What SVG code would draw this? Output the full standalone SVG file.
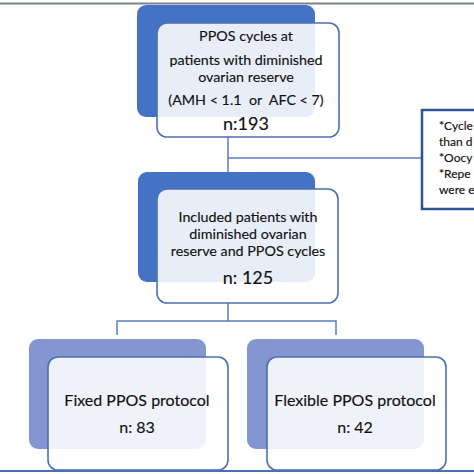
<svg xmlns="http://www.w3.org/2000/svg" width="474" height="474" viewBox="0 0 474 474">
<style>
.back{fill:#4472c4}
.back2{fill:#8396d2}
.front{fill:#ffffff;fill-opacity:0.88;stroke:#4d6fb4;stroke-width:1.6}
text{font-family:Lato,"Open Sans",sans-serif;fill:#111;stroke:#111;stroke-width:0.15}
.t{font-size:14.3px;text-anchor:middle}
.b{font-size:16px;text-anchor:middle}
.n{font-size:18px;text-anchor:middle}
.s{font-size:12px}
.c{fill:none;stroke:#5b7bbf;stroke-width:1.5}
</style>
<rect x="0" y="0" width="474" height="474" fill="#ffffff"/>
<line x1="0" y1="3.5" x2="474" y2="3.5" stroke="#7a8290" stroke-width="2"/>
<line x1="0" y1="471" x2="474" y2="471" stroke="#4a6fb5" stroke-width="2"/>
<g id="connectors">
<path class="c" d="M228 137 V172"/>
<path class="c" d="M228 158 H422"/>
<path class="c" d="M228 303 V321 M117 335 V321 H336 V335"/>
</g>
<g id="top">
<rect class="back" x="137" y="5" width="178" height="112" rx="9"/>
<rect class="front" x="157" y="23" width="182" height="114" rx="10"/>
<text class="t" x="246" y="41">PPOS cycles at</text>
<text class="t" x="246" y="65">patients with diminished</text>
<text class="t" x="246" y="82">ovarian reserve</text>
<text class="t" x="246" y="105" xml:space="preserve">(AMH &lt; 1.1  or  AFC &lt; 7)</text>
<text class="n" x="246" y="130">n:193</text>
</g>
<g id="middle">
<rect class="back" x="138" y="172" width="177" height="110" rx="9"/>
<rect class="front" x="157" y="189" width="181" height="114" rx="10"/>
<text class="t" x="248" y="222">Included patients with</text>
<text class="t" x="248" y="239">diminished ovarian</text>
<text class="t" x="248" y="256">reserve and PPOS cycles</text>
<text class="n" x="248" y="284">n: 125</text>
</g>
<g id="fixed">
<rect class="back2" x="29" y="339" width="177" height="110" rx="9"/>
<rect class="front" x="48" y="357" width="180" height="113" rx="10"/>
<text class="b" x="137" y="406">Fixed PPOS protocol</text>
<text class="b" x="137" y="433">n: 83</text>
</g>
<g id="flexible">
<rect class="back2" x="247" y="339" width="177" height="110" rx="9"/>
<rect class="front" x="267" y="357" width="179" height="113" rx="10"/>
<text class="b" x="355" y="406">Flexible PPOS protocol</text>
<text class="b" x="355" y="433">n: 42</text>
</g>
<g id="exclusion">
<rect x="422" y="110" width="70" height="99" fill="#ffffff" stroke="#2f5597" stroke-width="2.5"/>
<text class="s" x="439" y="130">*Cycle</text>
<text class="s" x="439" y="146">than d</text>
<text class="s" x="439" y="162">*Oocy</text>
<text class="s" x="439" y="178">*Repe</text>
<text class="s" x="439" y="194">were e</text>
</g>
</svg>
